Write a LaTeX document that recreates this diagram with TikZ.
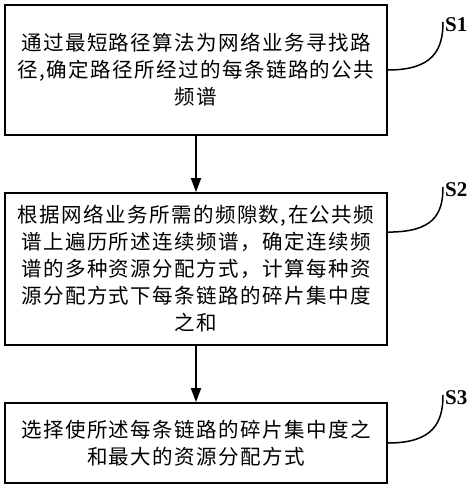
\documentclass[tikz,border=0pt]{standalone}
\usepackage{fontspec}
\newfontfamily\cjk[LetterSpace=7]{Noto Sans CJK SC}
\setmainfont{Liberation Serif}
\usetikzlibrary{arrows.meta,calc}
\begin{document}
\begin{tikzpicture}[x=1pt,y=-1pt,
  stepbox/.style={draw,line width=1.8pt,minimum width=382pt,inner sep=0pt,align=center,
    font=\cjk\fontsize{20.5}{27}\selectfont},
  slabel/.style={anchor=west,inner sep=0pt,font=\bfseries\fontsize{21}{21}\selectfont},
  lead/.style={line width=1.5pt},
  flow/.style={line width=1.8pt,-{Triangle[length=14pt,width=10pt]}}]
\useasboundingbox (0,0) rectangle (474,493);
\node[stepbox,minimum height=130pt] (b1) at (196,70)
  {通过最短路径算法为网络业务寻找路\\径,确定路径所经过的每条链路的公共\\频谱};
\node[stepbox,minimum height=152pt] (b2) at (196,269)
  {根据网络业务所需的频隙数,在公共频\\谱上遍历所述连续频谱，确定连续频\\谱的多种资源分配方式，计算每种资\\源分配方式下每条链路的碎片集中度\\之和};
\node[stepbox,minimum height=80pt] (b3) at (196,443)
  {选择使所述每条链路的碎片集中度之\\和最大的资源分配方式};
\node[slabel] (s1) at (445,25) {S1};
\node[slabel] (s2) at (445,190) {S2};
\node[slabel] (s3) at (445,398) {S3};
\draw[flow] (b1.south) -- (b2.north);
\draw[flow] (b2.south) -- (b3.north);
\coordinate (a1) at (b1.east);
\coordinate (a2) at ($(b2.north east)!0.26!(b2.south east)$);
\coordinate (a3) at (b3.east);
\draw[lead] (a1) .. controls ($(a1)+(45,0)$) and ($(s1.west)+(-2,25)$) .. ($(s1.west)+(-2,-3)$);
\draw[lead] (a2) .. controls ($(a2)+(45,0)$) and ($(s2.west)+(-2,25)$) .. ($(s2.west)+(-2,-3)$);
\draw[lead] (a3) .. controls ($(a3)+(45,0)$) and ($(s3.west)+(-2,25)$) .. ($(s3.west)+(-2,-3)$);
\end{tikzpicture}
\end{document}
